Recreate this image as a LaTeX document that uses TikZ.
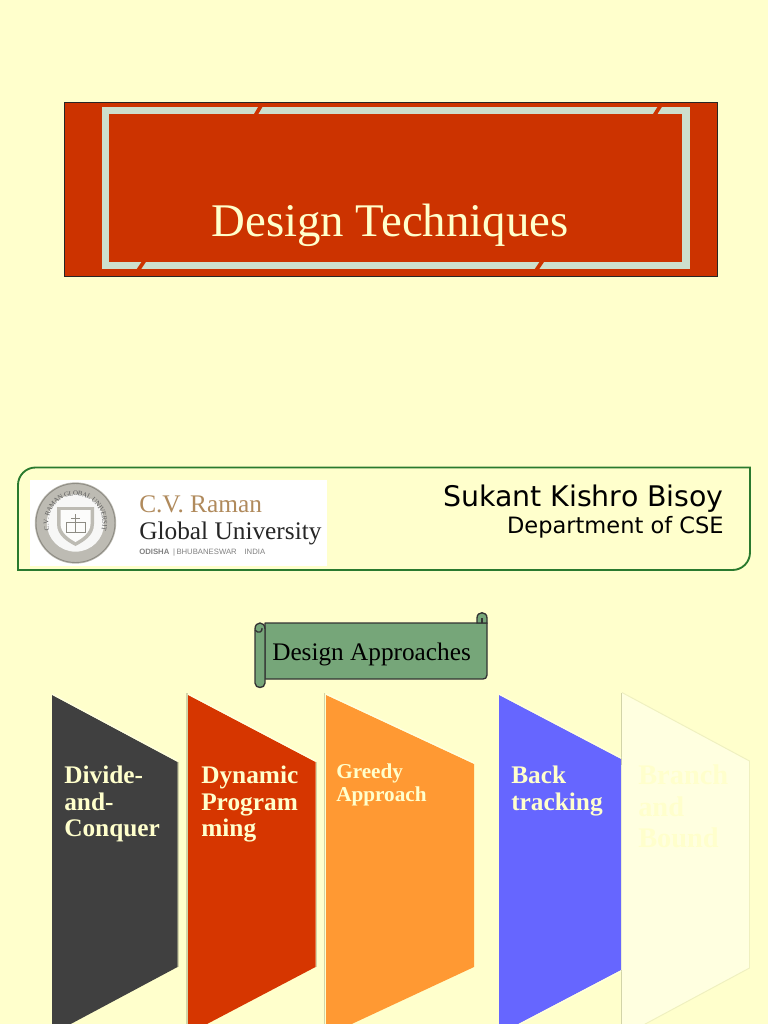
\documentclass[tikz,border=0pt]{standalone}
\usepackage{fontspec}
\setmainfont{Liberation Serif}
\newfontfamily\dejavu{DejaVu Sans}
\newfontfamily\lsans{Liberation Sans}
\usetikzlibrary{decorations.text}
\definecolor{pagebg}{HTML}{FFFFCC}
\definecolor{titlered}{HTML}{CC3300}
\definecolor{framegrey}{HTML}{CDDFCD}
\definecolor{titletext}{HTML}{FFFFCC}
\definecolor{frameline}{HTML}{2A7A2E}
\definecolor{scrollgreen}{HTML}{76A679}
\definecolor{dark}{HTML}{404040}
\definecolor{red2}{HTML}{D63600}
\definecolor{orange2}{HTML}{FF9933}
\definecolor{blue2}{HTML}{6666FF}
\definecolor{pale}{HTML}{FFFFE0}
\definecolor{paletext}{HTML}{FFFFCC}
\definecolor{sealgrey}{HTML}{BDBBB3}
\definecolor{sealdark}{HTML}{8E8C84}
\definecolor{edgegrey}{HTML}{D2D4A8}
\definecolor{tan}{HTML}{B08A5C}
\tikzset{
  px/.style={x=0.75pt,y=-0.75pt},
  slash/.style={titlered,line width=2.8pt},
  penta/.style={fill=#1},
  glow/.style={draw=pale,line width=0.9pt},
  sideline/.style={edgegrey,line width=1pt},
  steplabel/.style={anchor=north west,align=left,font=\bfseries\fontsize{19pt}{20pt}\selectfont,text=titletext,inner sep=0pt},
}
\begin{document}
\begin{tikzpicture}[px]
\useasboundingbox (0,0) rectangle (768,1024);
\fill[pagebg] (0,0) rectangle (768,1024);
% title
\node[draw=black!85,line width=0.6pt,fill=titlered,minimum width=489.4pt,minimum height=129.9pt,inner sep=0pt,anchor=north west] (titlebox) at (64.3,102.3) {};
\draw[framegrey,line width=5.3pt] (105.7,110.3) rectangle (686,265.5);
\draw[slash] (262,104) -- (255,116);
\draw[slash] (661.5,104) -- (654,116);
\draw[slash] (145,260) -- (137,272);
\draw[slash] (543,260) -- (535,272);
\node[text=titletext,font=\fontsize{35.1pt}{40pt}\selectfont,inner sep=0pt,anchor=base] (title) at (390,236) {Design Techniques};
% author bar
\draw[frameline,line width=1.4pt,fill=pagebg]
  (18,570) -- (18,485) arc[start angle=180,end angle=270,radius=17.5] -- (750,467.5) -- (750,552.5) arc[start angle=0,end angle=90,radius=17.5] -- cycle;
\node[fill=white,minimum width=222.75pt,minimum height=64pt,inner sep=0pt,anchor=north west] (logo) at (30,480) {};
\fill[sealgrey] (75.5,523) circle (30.5pt);
\draw[sealdark,line width=0.7pt] (75.5,523) circle (39.5);
\fill[white!88!sealgrey] (75.5,523) circle (21.5pt);
\fill[sealgrey] (57,507) -- (94,507) -- (94,524) .. controls (94,536) and (83,542) .. (75.5,546) .. controls (68,542) and (57,536) .. (57,524) -- cycle;
\fill[white!95!sealgrey] (60.5,510) -- (90.5,510) -- (90.5,524) .. controls (90.5,533) and (81,539) .. (75.5,542) .. controls (70,539) and (60.5,533) .. (60.5,524) -- cycle;
\draw[sealdark,line width=0.7pt] (66,522) rectangle (85,532);
\draw[sealdark,line width=0.7pt] (75.5,514) -- (75.5,532) (71,518) -- (80,518);
\path[postaction={decorate},decoration={text along path,text align={fit to path},raise=-1.8pt,text={|\fontsize{5.2pt}{5.2pt}\selectfont\color{black!65}|C.V. RAMAN GLOBAL UNIVERSITY}}] (47,530.5) arc[start angle=165,end angle=375,radius=29.5];
\node[anchor=base west,inner sep=0pt,text=tan,font=\fontsize{19pt}{20pt}\selectfont] (lg1) at (139,512) {C.V. Raman};
\node[anchor=base west,inner sep=0pt,text=black!85,font=\fontsize{19pt}{20pt}\selectfont] (lg2) at (139,539) {Global University};
\node[anchor=base west,inner sep=0pt,text=black!50,font=\lsans\fontsize{5.8pt}{6pt}\selectfont] (lg3) at (139,554) {\textbf{ODISHA}\enspace|\,BHUBANESWAR\enspace\enspace INDIA};
\node[anchor=base east,inner sep=0pt,font=\dejavu\fontsize{21.3pt}{24pt}\selectfont] (author) at (724,506) {Sukant Kishro Bisoy};
\node[anchor=base east,inner sep=0pt,font=\dejavu\fontsize{16.9pt}{19pt}\selectfont] (dept) at (724,533) {Department of CSE};
% scroll
\draw[black!80,line width=1pt,fill=scrollgreen,line join=round]
  (265,623) -- (487,623) -- (487,675) .. controls (487,678) and (485,679) .. (483,679) -- (265,679) -- cycle;
\draw[black!80,line width=1pt,fill=scrollgreen] (477,623) -- (477,618) .. controls (477,611) and (487,611) .. (487,618) -- (487,623) -- cycle;
\draw[black!80,line width=1pt] (482,623) -- (482,618);
\draw[black!80,line width=1pt,fill=scrollgreen] (255,629) .. controls (255,621) and (265,621) .. (265,629) -- (265,683) .. controls (265,689) and (255,689) .. (255,683) -- cycle;
\draw[black!80,line width=1pt] (255,630) .. controls (258,634) and (263,632) .. (262,628);
\node[anchor=base west,inner sep=0pt,font=\fontsize{18.95pt}{20pt}\selectfont] (approaches) at (272,660) {Design Approaches};
% pentagons
\draw[sideline] (187,693) -- (187,1024);
\draw[sideline] (324.5,693) -- (324.5,1024);
\draw[sideline,line width=1.3pt] (621.5,693) -- (621.5,765);
\draw[sideline,line width=1.3pt] (621.5,970) -- (621.5,1024);
\draw[sideline] (178.5,762) -- (178.5,967);
\draw[sideline] (316.5,762) -- (316.5,967);
\begin{scope}
\clip (0,0) rectangle (768,1024);
\path[penta=dark] (52,695) -- (177.5,762) -- (177.5,967) -- (52,1034) -- cycle;
\path[penta=red2] (188,695) -- (315.5,762) -- (315.5,967) -- (188,1034) -- cycle;
\path[penta=orange2] (326,695) -- (474,764) -- (474,967) -- (326,1036) -- cycle;
\path[penta=blue2] (499,695) -- (621,759) -- (621,970) -- (499,1034) -- cycle;
\path[penta=pale] (622,693) -- (749,761) -- (749,968) -- (622,1036) -- cycle;
\draw[glow] (52,694) -- (177.5,761);
\draw[glow] (188,694) -- (315.5,761);
\draw[glow] (326,694) -- (474,763);
\draw[glow] (499,694) -- (621,758);
\draw[glow] (499,1035) -- (621,971);
\draw[edgegrey!35!pagebg,line width=0.7pt] (622,692.5) -- (749.5,761) -- (749.5,968) -- (622,1036.5);
\end{scope}
\node[steplabel] (s1) at (64,765.5) {Divide-\\and-\\Conquer};
\node[steplabel] (s2) at (201,765.5) {Dynamic\\Program\\ming};
\node[steplabel,font=\bfseries\fontsize{15.9pt}{17pt}\selectfont] (s3) at (336,764) {Greedy\\Approach};
\node[steplabel] (s4) at (511,765.5) {Back\\tracking};
\node[steplabel,text=paletext,font=\bfseries\fontsize{21.3pt}{23.3pt}\selectfont] (s5) at (638,765) {Branch\\and\\Bound};
\end{tikzpicture}
\end{document}
